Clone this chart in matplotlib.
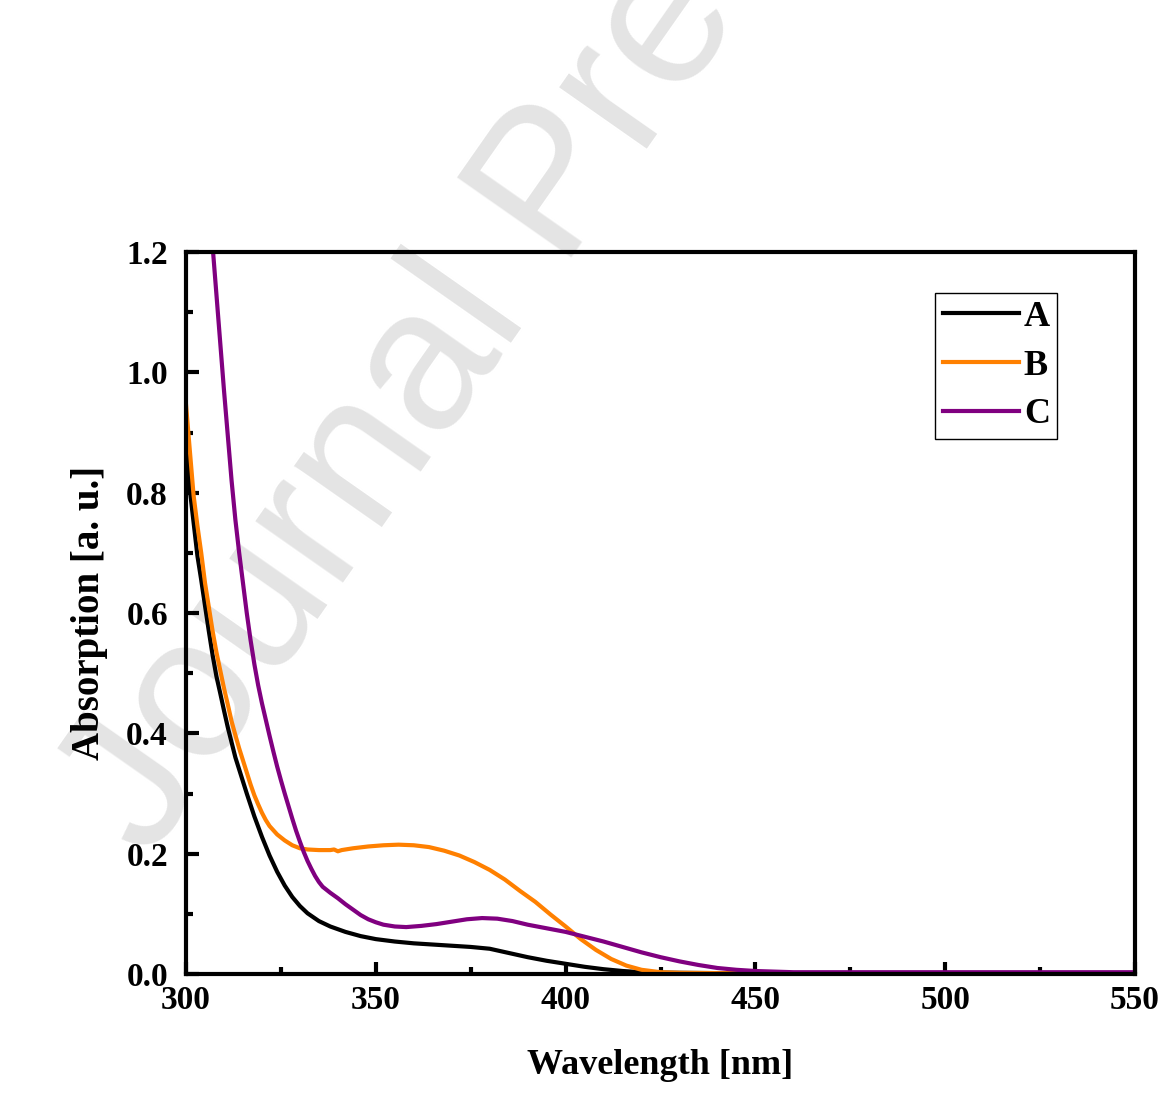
import matplotlib
matplotlib.use("Agg")
import matplotlib.pyplot as plt
from matplotlib.ticker import MultipleLocator, FormatStrFormatter

# UV-vis absorption spectra
wl_A = [300, 301, 302, 303, 304, 305, 306, 307, 308, 309, 310, 311, 312, 313, 314, 315, 316,
        318, 320, 322, 324, 326, 328, 330, 332, 335, 338, 342, 346, 350, 355, 360, 365, 370,
        375, 380, 385, 390, 395, 400, 405, 410, 415, 420, 430, 450, 500, 550]
abs_A = [0.89, 0.805, 0.75, 0.695, 0.655, 0.612, 0.57, 0.53, 0.495, 0.467, 0.438, 0.41, 0.385,
         0.36, 0.34, 0.32, 0.30, 0.262, 0.228, 0.197, 0.17, 0.147, 0.128, 0.113, 0.101, 0.088,
         0.079, 0.07, 0.063, 0.058, 0.054, 0.051, 0.049, 0.047, 0.045, 0.042, 0.035, 0.028,
         0.022, 0.017, 0.012, 0.008, 0.005, 0.003, 0.002, 0.001, 0.001, 0.001]

wl_B = [300, 301, 302, 303, 304, 305, 306, 307, 308, 309, 310, 311, 312, 313, 314, 315, 316,
        317, 318, 319, 320, 321, 322, 324, 326, 328, 330, 332, 335, 338, 339, 340, 341, 344,
        348, 352, 356, 360, 364, 368, 372, 376, 380, 384, 388, 392, 396, 400, 404, 408, 412,
        416, 420, 425, 430, 450, 500, 550]
abs_B = [0.946, 0.87, 0.795, 0.745, 0.70, 0.65, 0.61, 0.57, 0.535, 0.505, 0.475, 0.448, 0.42,
         0.397, 0.375, 0.355, 0.335, 0.315, 0.297, 0.282, 0.268, 0.256, 0.246, 0.232, 0.222,
         0.214, 0.209, 0.207, 0.206, 0.206, 0.207, 0.204, 0.206, 0.209, 0.212, 0.214, 0.215,
         0.214, 0.211, 0.205, 0.197, 0.186, 0.173, 0.157, 0.138, 0.12, 0.099, 0.079, 0.058,
         0.04, 0.025, 0.014, 0.007, 0.003, 0.002, 0.001, 0.001, 0.001]

wl_C = [305, 306, 307, 308, 309, 310, 311, 312, 313, 314, 315, 316, 317, 318, 319, 320, 321,
        322, 323, 324, 325, 326, 327, 328, 329, 330, 331, 332, 333, 334, 335, 336, 338, 340,
        342, 344, 346, 348, 350, 352, 355, 358, 362, 366, 370, 374, 378, 382, 386, 390, 395,
        400, 405, 410, 415, 420, 425, 430, 435, 440, 445, 450, 460, 480, 500, 525, 550]
abs_C = [1.40, 1.31, 1.21, 1.13, 1.05, 0.97, 0.895, 0.82, 0.755, 0.70, 0.65, 0.60, 0.555,
         0.515, 0.48, 0.45, 0.423, 0.396, 0.37, 0.345, 0.322, 0.300, 0.279, 0.258, 0.238, 0.22,
         0.203, 0.188, 0.175, 0.163, 0.153, 0.145, 0.135, 0.126, 0.116, 0.107, 0.098, 0.091,
         0.086, 0.082, 0.079, 0.078, 0.080, 0.083, 0.087, 0.091, 0.093, 0.092, 0.088, 0.082,
         0.076, 0.070, 0.062, 0.054, 0.045, 0.036, 0.028, 0.021, 0.015, 0.010, 0.007, 0.005,
         0.003, 0.003, 0.003, 0.003, 0.003]

labels = ["A", "B", "C"]
colors = ["black", "#ff8000", "#800080"]

plt.rcParams['font.family'] = ['Liberation Serif', 'DejaVu Serif']
plt.rcParams['font.weight'] = 'bold'

fig = plt.figure(figsize=(11.73, 10.96), dpi=100)
ax = fig.add_axes([0.1586, 0.1113, 0.8090, 0.6587])
ax.set_facecolor('none')

# watermark behind the plot
fig.text(0.127, 0.2145, "Journal Pre-proof", rotation=55, rotation_mode='anchor',
         ha='left', va='baseline', fontsize=146, color='#e4e4e4',
         family='Liberation Sans', fontweight='normal', zorder=-1)

for wl, ab, lab, col in zip([wl_A, wl_B, wl_C], [abs_A, abs_B, abs_C], labels, colors):
    ax.plot(wl, ab, color=col, lw=3, label=lab)

ax.set_xlim(300, 550)
ax.set_ylim(0, 1.2)
ax.xaxis.set_major_locator(MultipleLocator(50))
ax.xaxis.set_minor_locator(MultipleLocator(25))
ax.yaxis.set_major_locator(MultipleLocator(0.2))
ax.yaxis.set_minor_locator(MultipleLocator(0.1))
ax.yaxis.set_major_formatter(FormatStrFormatter('%.1f'))

for s in ax.spines.values():
    s.set_linewidth(3)
ax.tick_params(which='both', direction='in', width=3, top=False, right=False)
ax.tick_params(which='major', length=9)
ax.tick_params(which='minor', length=5)
ax.tick_params(axis='x', labelsize=24, pad=8)
ax.tick_params(axis='y', labelsize=24, pad=13)

ax.set_xlabel("Wavelength [nm]", fontsize=26, fontweight='bold', labelpad=24)
ax.set_ylabel("Absorption [a. u.]", fontsize=28, fontweight='bold', labelpad=13)

leg = ax.legend(loc='upper right', bbox_to_anchor=(0.918, 0.943), borderaxespad=0,
                fontsize=26, handlelength=2.13, handletextpad=0.12, labelspacing=0.43,
                borderpad=0.2, fancybox=False, framealpha=1)
leg.get_frame().set_edgecolor('black')
leg.get_frame().set_linewidth(1)
for t in leg.get_texts():
    t.set_fontweight('bold')

fig.savefig("out.png", dpi=100)
